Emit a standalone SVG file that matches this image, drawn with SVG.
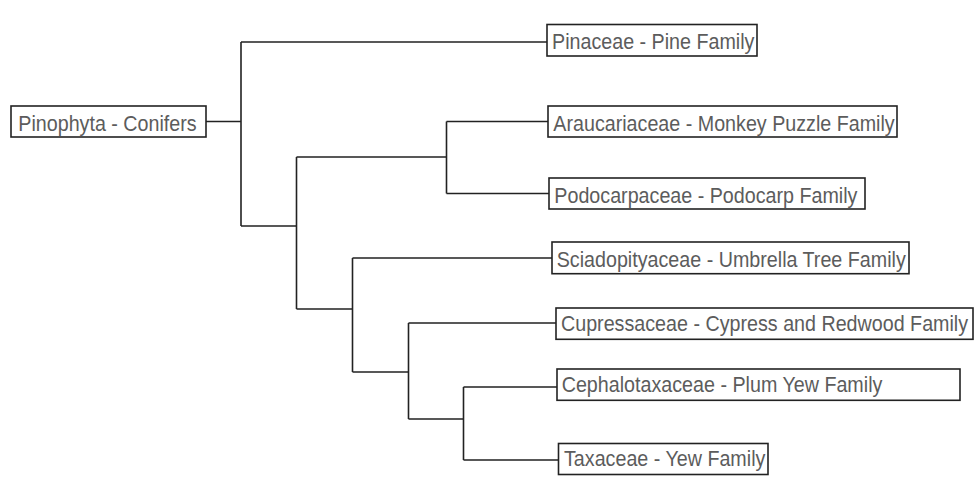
<svg xmlns="http://www.w3.org/2000/svg" width="980" height="488" viewBox="0 0 980 488">
<style>
.box{fill:#fff;stroke:#222;stroke-width:1.6}
.lbl{font-family:"Liberation Sans",Arial,sans-serif;font-size:19.7px;fill:#5c5c5c}
.con{fill:none;stroke:#222;stroke-width:1.6}
</style>
<rect width="980" height="488" fill="#fff"/>
<g id="connectors">
<path class="con" d="M206,121.5H241M241,42V226M241,42H547M241,226H296.5"/>
<path class="con" d="M296.5,157V309M296.5,157H446.5M446.5,121.5V193.5M446.5,121.5H548M446.5,193.5H549M296.5,309H352.5"/>
<path class="con" d="M352.5,258V372M352.5,258H552M352.5,372H408.5"/>
<path class="con" d="M408.5,323V419M408.5,323H556M408.5,419H463.5"/>
<path class="con" d="M463.5,387V460M463.5,387H557M463.5,460H559"/>
</g>
<g id="n-root">
<rect class="box" x="11" y="106" width="195" height="31"/>
<text class="lbl" transform="translate(18.3,130.7) scale(1,1.09)">Pinophyta - Conifers</text>
</g>
<g id="n-pinaceae">
<rect class="box" x="547" y="24.5" width="210" height="31.5"/>
<text class="lbl" transform="translate(552,48.7) scale(1,1.09)">Pinaceae - Pine Family</text>
</g>
<g id="n-araucariaceae">
<rect class="box" x="548" y="106" width="349" height="31"/>
<text class="lbl" transform="translate(553.3,130.5) scale(1,1.09)">Araucariaceae - Monkey Puzzle Family</text>
</g>
<g id="n-podocarpaceae">
<rect class="box" x="549" y="178" width="316" height="31"/>
<text class="lbl" transform="translate(554.3,202.5) scale(1,1.09)">Podocarpaceae - Podocarp Family</text>
</g>
<g id="n-sciadopityaceae">
<rect class="box" x="552" y="242" width="357" height="31.7"/>
<text class="lbl" transform="translate(556.7,266.7) scale(1,1.09)">Sciadopityaceae - Umbrella Tree Family</text>
</g>
<g id="n-cupressaceae">
<rect class="box" x="556" y="308" width="417" height="31.3"/>
<text class="lbl" transform="translate(561,331) scale(1,1.09)">Cupressaceae - Cypress and Redwood Family</text>
</g>
<g id="n-cephalotaxaceae">
<rect class="box" x="557" y="369" width="403" height="31.3"/>
<text class="lbl" transform="translate(561.7,392) scale(1,1.09)">Cephalotaxaceae - Plum Yew Family</text>
</g>
<g id="n-taxaceae">
<rect class="box" x="558.5" y="443.5" width="209.5" height="31"/>
<text class="lbl" transform="translate(564,466) scale(1,1.09)">Taxaceae - Yew Family</text>
</g>
</svg>
